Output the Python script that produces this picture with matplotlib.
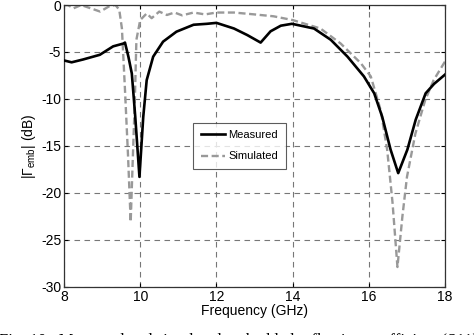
import numpy as np
import matplotlib
matplotlib.use("Agg")
import matplotlib.pyplot as plt

plt.rcParams['font.family'] = ['Liberation Sans', 'DejaVu Sans']
plt.rcParams['mathtext.fontset'] = 'custom'
plt.rcParams['mathtext.rm'] = 'Liberation Sans'
plt.rcParams['mathtext.it'] = 'Liberation Sans'

# measured |Gamma_emb| (dB)
meas_f = [8.0, 8.2, 8.5, 8.94, 9.29, 9.56, 9.6, 9.69, 9.78, 9.87, 9.98,
          10.08, 10.17, 10.34, 10.6, 10.95, 11.4, 11.75, 12.0, 12.46, 12.81,
          13.16, 13.42, 13.69, 13.98, 14.56, 15.0, 15.44, 15.87, 16.14, 16.35,
          16.57, 16.77, 17.01, 17.23, 17.49, 17.71, 18.0]
meas_db = [-5.9, -6.1, -5.8, -5.3, -4.4, -4.1, -4.0, -5.5, -7.3, -11.9, -18.3,
           -11.9, -8.0, -5.5, -3.9, -2.84, -2.1, -2.0, -1.9, -2.5, -3.2,
           -4.0, -2.8, -2.2, -2.0, -2.5, -3.7, -5.5, -7.6, -9.4, -11.9,
           -15.4, -17.9, -15.4, -12.2, -9.4, -8.4, -7.4]

# simulated |Gamma_emb| (dB)
sim_f = [8.0, 8.1, 8.25, 8.45, 8.7, 8.95, 9.2, 9.35, 9.45, 9.52, 9.6, 9.68,
         9.75, 9.8, 9.86, 9.9, 10.0, 10.17, 10.3, 10.5, 10.7, 10.9, 11.1,
         11.4, 11.7, 12.0, 12.46, 13.0, 13.5, 14.0, 14.73, 15.26, 15.79,
         16.05, 16.31, 16.48, 16.62, 16.75, 16.88, 17.0, 17.22, 17.48, 17.7,
         18.0]
sim_db = [0.0, 0.0, -0.35, 0.0, -0.35, -0.7, -0.1, 0.0, -0.5, -2.5, -9.0, -16.0,
          -23.1, -17.0, -10.0, -3.7, -1.6, -0.9, -1.4, -0.7, -1.06, -0.8, -1.1,
          -0.8, -1.0, -0.8, -0.8, -1.0, -1.2, -1.6, -2.5, -4.1, -6.2,
          -7.6, -11.2, -15.4, -21.0, -27.9, -22.5, -18.3, -13.7, -10.1, -8.0,
          -6.0]

fig = plt.figure(figsize=(4.74, 3.35), dpi=100)
ax = fig.add_axes([0.135, 0.144, 0.804, 0.841])

ax.plot(meas_f, meas_db, color='black', lw=1.9, label='Measured', zorder=3)
ax.plot(sim_f, sim_db, color='#999999', lw=1.7, ls=(0, (3, 1.5)),
        label='Simulated', zorder=2)

ax.set_xlim(8, 18)
ax.set_ylim(-30, 0)
ax.set_xticks([8, 10, 12, 14, 16, 18])
ax.set_yticks([-30, -25, -20, -15, -10, -5, 0])
ax.set_yticklabels(['-30', '-25', '-20', '-15', '-10', '-5', '0'])
ax.grid(True, color='#777777', ls=(0, (5, 4)), lw=0.8)
ax.tick_params(direction='in', labelsize=10, length=3, top=True, right=True,
               pad=2)
for s in ax.spines.values():
    s.set_color('#333333')
    s.set_linewidth(0.9)

ax.set_xlabel('Frequency (GHz)', fontsize=10, labelpad=0)
ax.set_ylabel(r'$|\Gamma_{\mathrm{emb}}|$ (dB)', fontsize=10, labelpad=2)

leg = ax.legend(loc='center', bbox_to_anchor=(0.46, 0.5), fontsize=8,
                frameon=True, fancybox=False, edgecolor='#333333',
                handlelength=2.2, borderpad=0.7, labelspacing=1.0,
                handletextpad=0.3)
leg.get_frame().set_linewidth(0.8)

fig.text(-0.003, 0.007,
         'Fig. 10.  Measured and simulated embedded reflection coefficient (S11).',
         family='Liberation Serif', fontsize=12, va='top', ha='left')

fig.savefig('out.png', dpi=100)
